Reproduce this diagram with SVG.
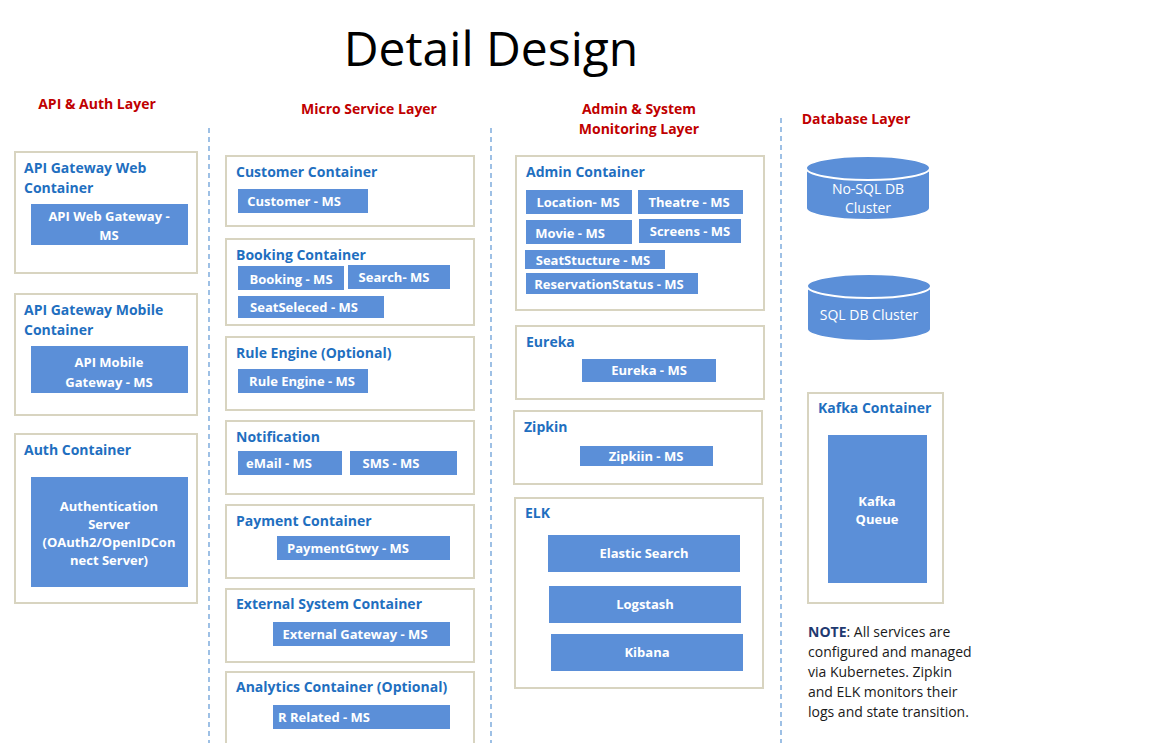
<svg xmlns="http://www.w3.org/2000/svg" width="1152" height="743" viewBox="0 0 1152 743">
<style>
text{font-family:"Open Sans","Liberation Sans",sans-serif;}
.c{fill:#fff;stroke:#d8d4c0;stroke-width:2}
.t{fill:#1f6fc0;font-size:14px;font-weight:700}
.b{fill:#5b8fd8}
.w{fill:#fff;font-size:13px;font-weight:700;text-anchor:middle}
.h{fill:#c00000;font-size:14px;font-weight:700;text-anchor:middle}
.d{stroke:#6a9fd8;stroke-width:1.3;stroke-dasharray:5,4}
.db{fill:#5b8fd8;stroke:#fff;stroke-width:2}
</style>
<rect width="1152" height="743" fill="#fff"/>
<text x="491" y="66" font-size="48" text-anchor="middle" fill="#000" style="font-family:'Open Sans',sans-serif">Detail Design</text>
<text class="h" x="97" y="109">API &amp; Auth Layer</text>
<text class="h" x="369" y="114">Micro Service Layer</text>
<text class="h" x="639" y="114">Admin &amp; System</text>
<text class="h" x="639" y="134">Monitoring Layer</text>
<text class="h" x="856" y="124">Database Layer</text>
<g id="connectors">
<line class="d" x1="209" y1="128" x2="209" y2="743"/>
<line class="d" x1="491" y1="128" x2="491" y2="743"/>
<line class="d" x1="781" y1="118" x2="781" y2="743"/>
</g>
<g id="apiweb"><rect class="c" x="15" y="152" width="182" height="121"/><text class="t" x="24" y="173">API Gateway Web</text><text class="t" x="24" y="193">Container</text><rect class="b" x="31" y="204" width="157" height="41"/><text class="w" x="109" y="221">API Web Gateway -</text><text class="w" x="109" y="240">MS</text></g>
<g id="apimob"><rect class="c" x="15" y="294" width="182" height="121"/><text class="t" x="24" y="315">API Gateway Mobile</text><text class="t" x="24" y="335">Container</text><rect class="b" x="31" y="346" width="157" height="47"/><text class="w" x="109" y="367">API Mobile</text><text class="w" x="109" y="387">Gateway - MS</text></g>
<g id="auth"><rect class="c" x="15" y="434" width="182" height="169"/><text class="t" x="24" y="455">Auth Container</text><rect class="b" x="31" y="477" width="157" height="110"/><text class="w" x="109" y="511">Authentication</text><text class="w" x="109" y="529">Server</text><text class="w" x="109" y="547">(OAuth2/OpenIDCon</text><text class="w" x="109" y="565">nect Server)</text></g>
<g id="customer"><rect class="c" x="226" y="156" width="248" height="70"/><text class="t" x="236" y="177">Customer Container</text><rect class="b" x="238" y="189" width="130" height="24"/><text class="w" x="294" y="206">Customer - MS</text></g>
<g id="booking"><rect class="c" x="226" y="239" width="248" height="86"/><text class="t" x="236" y="260">Booking Container</text><rect class="b" x="238" y="266" width="106" height="24"/><text class="w" x="291" y="284">Booking - MS</text><rect class="b" x="348" y="265" width="102" height="24"/><text class="w" x="394" y="282">Search- MS</text><rect class="b" x="238" y="296" width="146" height="22"/><text class="w" x="304" y="312">SeatSeleced - MS</text></g>
<g id="rule"><rect class="c" x="226" y="337" width="248" height="73"/><text class="t" x="236" y="358">Rule Engine (Optional)</text><rect class="b" x="238" y="369" width="130" height="24"/><text class="w" x="302" y="386">Rule Engine - MS</text></g>
<g id="notif"><rect class="c" x="226" y="421" width="248" height="73"/><text class="t" x="236" y="442">Notification</text><rect class="b" x="238" y="451" width="104" height="24"/><text class="w" x="279" y="468">eMail - MS</text><rect class="b" x="350" y="451" width="107" height="24"/><text class="w" x="391" y="468">SMS - MS</text></g>
<g id="payment"><rect class="c" x="226" y="505" width="248" height="73"/><text class="t" x="236" y="526">Payment Container</text><rect class="b" x="277" y="536" width="173" height="24"/><text class="w" x="348" y="553">PaymentGtwy - MS</text></g>
<g id="external"><rect class="c" x="226" y="589" width="248" height="73"/><text class="t" x="236" y="609">External System Container</text><rect class="b" x="273" y="622" width="177" height="24"/><text class="w" x="355" y="639">External Gateway - MS</text></g>
<g id="analytics"><rect class="c" x="226" y="672" width="248" height="80"/><text class="t" x="236" y="692">Analytics Container (Optional)</text><rect class="b" x="273" y="705" width="177" height="24"/><text class="w" x="324" y="722">R Related - MS</text></g>
<g id="admin"><rect class="c" x="516" y="156" width="248" height="154"/><text class="t" x="526" y="177">Admin Container</text>
<rect class="b" x="526" y="190" width="106" height="24"/><text class="w" x="578" y="207">Location- MS</text>
<rect class="b" x="638" y="190" width="105" height="24"/><text class="w" x="689" y="207">Theatre - MS</text>
<rect class="b" x="526" y="220" width="106" height="24"/><text class="w" x="570" y="238">Movie - MS</text>
<rect class="b" x="639" y="219" width="102" height="24"/><text class="w" x="690" y="236">Screens - MS</text>
<rect class="b" x="525" y="250" width="140" height="19"/><text class="w" x="593" y="265">SeatStucture - MS</text>
<rect class="b" x="526" y="273" width="172" height="21"/><text class="w" x="609" y="289">ReservationStatus - MS</text></g>
<g id="eureka"><rect class="c" x="516" y="326" width="248" height="73"/><text class="t" x="526" y="347">Eureka</text><rect class="b" x="582" y="359" width="134" height="23"/><text class="w" x="649" y="375">Eureka - MS</text></g>
<g id="zipkin"><rect class="c" x="514" y="411" width="248" height="73"/><text class="t" x="524" y="432">Zipkin</text><rect class="b" x="580" y="446" width="133" height="20"/><text class="w" x="646" y="461">Zipkiin - MS</text></g>
<g id="elk"><rect class="c" x="515" y="498" width="248" height="190"/><text class="t" x="525" y="518">ELK</text>
<rect class="b" x="548" y="535" width="192" height="37"/><text class="w" x="644" y="558">Elastic Search</text>
<rect class="b" x="549" y="586" width="192" height="37"/><text class="w" x="645" y="609">Logstash</text>
<rect class="b" x="551" y="634" width="192" height="37"/><text class="w" x="647" y="657">Kibana</text></g>
<g id="nosql"><path class="db" d="M806,168 v40 a62,12 0 0 0 124,0 v-40"/><ellipse class="db" cx="868" cy="168" rx="62" ry="12"/><text x="868" y="194" fill="#fff" font-size="14" text-anchor="middle">No-SQL DB</text><text x="868" y="213" fill="#fff" font-size="14" text-anchor="middle">Cluster</text></g>
<g id="sql"><path class="db" d="M807,286 v43 a62,12 0 0 0 124,0 v-43"/><ellipse class="db" cx="869" cy="286" rx="62" ry="12"/><text x="869" y="320" fill="#fff" font-size="14" text-anchor="middle">SQL DB Cluster</text></g>
<g id="kafka"><rect class="c" x="808" y="393" width="135" height="210"/><text class="t" x="818" y="413">Kafka Container</text><rect class="b" x="828" y="435" width="99" height="148"/><text class="w" x="877" y="506">Kafka</text><text class="w" x="877" y="524">Queue</text></g>
<g id="note" font-size="14" fill="#1a1a1a"><text x="808" y="637"><tspan font-weight="700" fill="#1f3a70">NOTE</tspan>:  All services are</text><text x="808" y="657">configured and managed</text><text x="808" y="677">via Kubernetes.   Zipkin</text><text x="808" y="697">and ELK monitors their</text><text x="808" y="717">logs and state transition.</text></g>
</svg>
